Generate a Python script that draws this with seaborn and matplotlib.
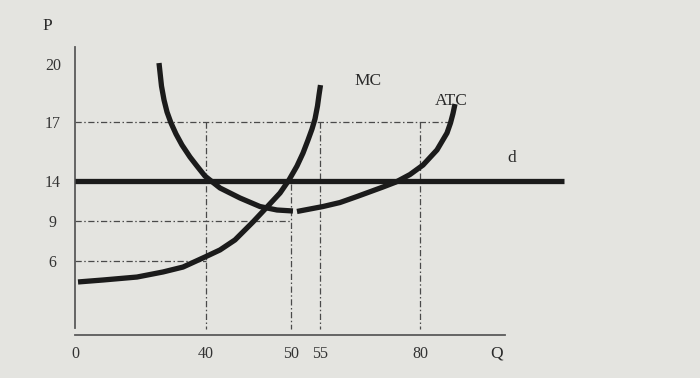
import numpy as np
import pandas as pd
import matplotlib
matplotlib.use("Agg")
import matplotlib.pyplot as plt
import seaborn as sns

# ---------------- data ----------------
q_ticks = [0, 40, 50, 55, 80]
q_labels = ["0", "40", "50", "55", "80"]
p_ticks = [6, 9, 14, 17, 20]
p_labels = ["6", "9", "14", "17", "20"]

# Marginal cost curve (Q, P)
mc_q = [0.92, 8.55, 18.93, 26.87, 32.98, 39.69, 41.65, 43.41, 45.53, 47.18,
        48.71, 49.76, 51.03, 52.07, 52.93, 53.62, 54.14, 54.57, 54.83, 55.125]
mc_p = [4.30, 4.46, 4.70, 5.11, 5.51, 6.30, 6.83, 7.58, 8.93, 10.75,
        12.5, 14.05, 14.76, 15.42, 16.08, 16.64, 17.16, 17.83, 18.40, 18.91]

# Average total cost curve (drawn in two strokes in the sketch)
atc_left_q = [25.65, 26.41, 27.18, 28.09, 29.31, 30.84, 32.67, 35.11, 37.25,
              39.69, 41.65, 44.0, 46.35, 48.35, 50.34]
atc_left_p = [20.05, 18.86, 18.14, 17.52, 16.95, 16.39, 15.83, 15.22, 14.76,
              14.25, 13.125, 11.875, 10.81, 10.375, 10.25]
atc_right_q = [51.03, 55.75, 60.0, 64.25, 70.75, 74.0, 77.5, 80.75, 84.25,
               86.75, 87.625, 88.25, 88.75]
atc_right_p = [10.19, 10.81, 11.31, 12.06, 13.25, 13.875, 14.33, 14.81, 15.58,
               16.44, 16.95, 17.44, 17.93]

# Demand (price line)
d_q = [0, 116]
d_p = [14, 14]

# Dash-dot guide lines: (q_start, q_end, p_start, p_end)
guide_q0 = [0, 0, 0, 40, 50, 55, 80]
guide_q1 = [87.75, 50, 40, 40, 50, 55, 80]
guide_p0 = [17, 9, 6, 17, 13.6, 17, 17]
guide_p1 = [17, 9, 6, 0.5, 0.5, 0.5, 0.5]

# ---------------- non-uniform placement of the sketch's axes ----------------
W, H = 700, 378
q_knots, q_pos = [0, 40, 50, 55, 80], [75, 206, 291, 320, 420]
p_knots, p_pos = [0, 6, 9, 14, 17, 20], [43, 117, 157, 197, 256, 314]


def piecewise(xk, yk):
    xk = np.asarray(xk, float)
    yk = np.asarray(yk, float)
    s0 = (yk[1] - yk[0]) / (xk[1] - xk[0])
    s1 = (yk[-1] - yk[-2]) / (xk[-1] - xk[-2])

    def f(x):
        x = np.asarray(x, float)
        y = np.interp(x, xk, yk)
        y = np.where(x < xk[0], yk[0] + (x - xk[0]) * s0, y)
        y = np.where(x > xk[-1], yk[-1] + (x - xk[-1]) * s1, y)
        return y
    return f


fwd_x, inv_x = piecewise(q_knots, q_pos), piecewise(q_pos, q_knots)
fwd_y, inv_y = piecewise(p_knots, p_pos), piecewise(p_pos, p_knots)

sns.set_theme(style="white")
plt.rcParams["font.family"] = ["Liberation Serif", "DejaVu Serif"]

BG = "#e4e4e0"
INK = "#1b1b1b"
GUIDE = "#4a4a4a"

fig = plt.figure(figsize=(W / 100, H / 100), dpi=100)
fig.patch.set_facecolor(BG)
ax_l, ax_r, ax_b, ax_t = 75, 505, 43, 331
ax = fig.add_axes([ax_l / W, ax_b / H, (ax_r - ax_l) / W, (ax_t - ax_b) / H])
ax.set_facecolor("none")
ax.set_xscale("function", functions=(fwd_x, inv_x))
ax.set_yscale("function", functions=(fwd_y, inv_y))
ax.set_xlim(0, float(inv_x(ax_r)))
ax.set_ylim(0, float(inv_y(ax_t)))

# guides
for q0, q1, p0, p1 in zip(guide_q0, guide_q1, guide_p0, guide_p1):
    ax.plot([q0, q1], [p0, p1], color=GUIDE, lw=0.9,
            linestyle=(0, (5, 2, 1.2, 2)), zorder=1)

# curves
line_kw = dict(color=INK, lw=3.8, sort=False, estimator=None, ax=ax,
               solid_capstyle="butt", solid_joinstyle="round",
               clip_on=False, zorder=3)
sns.lineplot(x=d_q, y=d_p, **line_kw)
sns.lineplot(x=mc_q, y=mc_p, **line_kw)
sns.lineplot(x=atc_left_q, y=atc_left_p, **line_kw)
sns.lineplot(x=atc_right_q, y=atc_right_p, **line_kw)

# axes styling
for s in ["top", "right"]:
    ax.spines[s].set_visible(False)
for s in ["left", "bottom"]:
    ax.spines[s].set_color("#5a5a5a")
    ax.spines[s].set_linewidth(1.3)
ax.spines["left"].set_bounds(float(inv_y(50)), float(inv_y(ax_t)))

ax.set_xticks(q_ticks, labels=q_labels)
ax.set_yticks(p_ticks, labels=p_labels)
ax.minorticks_off()
ax.tick_params(axis="x", length=0, pad=8, labelsize=11.5, labelcolor="#333333")
ax.tick_params(axis="y", length=0, pad=16, labelsize=11.5, labelcolor="#333333")
for lbl in ax.get_yticklabels():
    lbl.set_ha("center")
ax.grid(False)

txt = dict(fontsize=12.5, color="#2a2a2a", ha="center", va="center")
fig.text(47 / W, 1 - 26 / H, "P", **txt)
fig.text(497 / W, 1 - 353 / H, "Q", **txt)
fig.text(368 / W, 1 - 81 / H, "MC", **txt)
fig.text(451 / W, 1 - 101 / H, "ATC", **txt)
fig.text(512 / W, 1 - 158 / H, "d", **txt)

fig.savefig("out.png", dpi=100, facecolor=BG)
